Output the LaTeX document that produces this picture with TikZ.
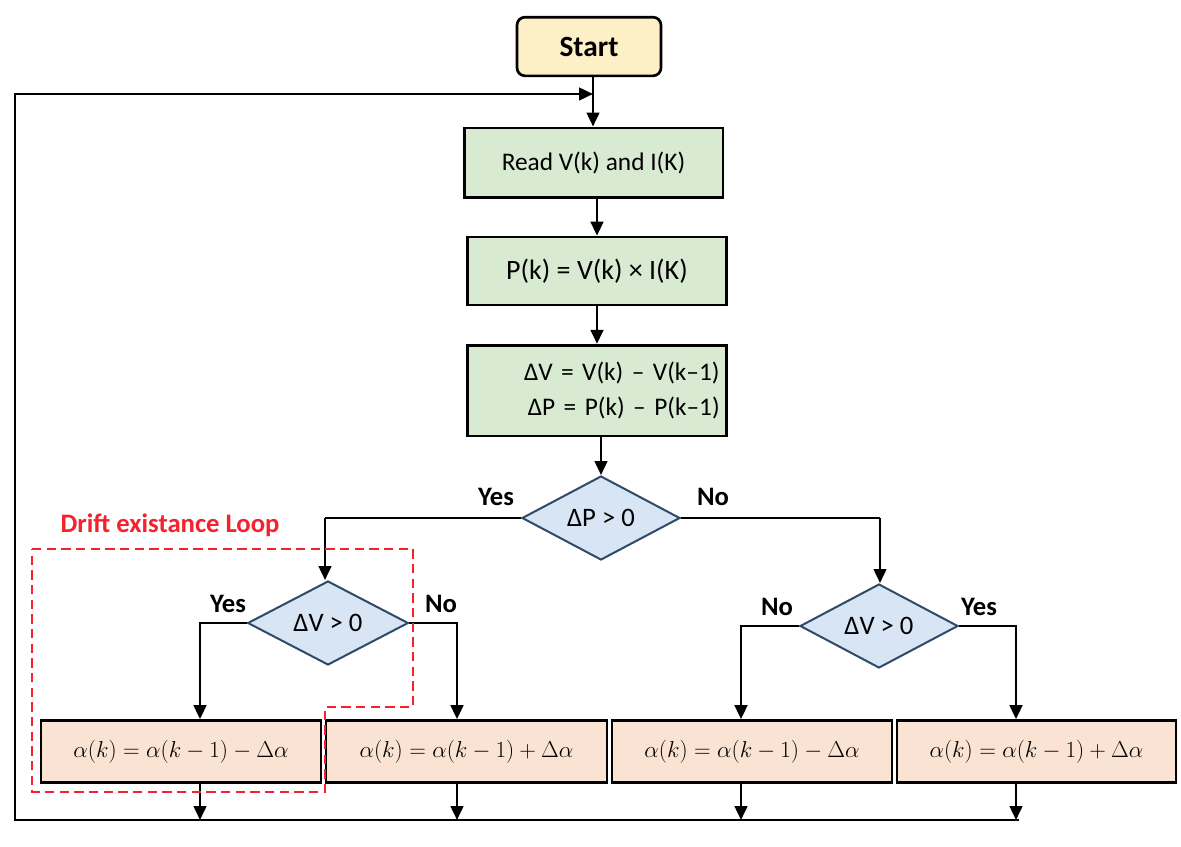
\documentclass[tikz,border=0pt]{standalone}
\usepackage[no-math]{fontspec}
\setmainfont{Carlito}
\usetikzlibrary{arrows.meta,shapes.geometric}
\definecolor{startfill}{HTML}{FDEFC6}
\definecolor{greenfill}{HTML}{D8EAD2}
\definecolor{bluefill}{HTML}{D7E5F4}
\definecolor{blueline}{HTML}{2F4A68}
\definecolor{peach}{HTML}{FBE3D4}
\definecolor{redline}{HTML}{F5222D}
\tikzset{
  box/.style={draw=black, line width=2pt, rectangle, inner sep=0pt},
  startbox/.style={box, fill=startfill, rounded corners=6pt, font=\fontsize{22}{26}\selectfont\bfseries},
  procbox/.style={box, fill=greenfill, font=\fontsize{19}{23}\selectfont},
  outbox/.style={box, fill=peach, font=\fontsize{17.5}{21}\selectfont},
  decision/.style={diamond, draw=blueline, fill=bluefill, line width=1.5pt, inner sep=0pt, aspect=1.9, font=\fontsize{20}{24}\selectfont},
  flow/.style={line width=1.9pt, -{Triangle[length=10.5pt,width=9.5pt]}},
  plain/.style={line width=1.9pt},
  lbl/.style={font=\fontsize{20}{24}\selectfont\bfseries, inner sep=0pt},
  loopbox/.style={draw=redline, line width=1.9pt, dash pattern=on 7pt off 4pt},
}
\begin{document}
\begin{tikzpicture}[x=0.75pt,y=-0.75pt]
\useasboundingbox (0,0) rectangle (1181,846);
% nodes
\node[startbox, minimum width=108pt, minimum height=44pt] (start) at (589,46.5) {Start};
\node[procbox, minimum width=194pt, minimum height=52pt] (read) at (593.5,162.5) {Read V(k) and I(K)};
\node[procbox, minimum width=194pt, minimum height=51pt, font=\fontsize{21}{25}\selectfont] (pk) at (597,271) {P(k) = V(k) × I(K)};
\node[procbox, minimum width=194pt, minimum height=68pt, align=right, text width=184pt] (dv) at (597,390.5) {ΔV = V(k) – V(k–1)\\[3pt]ΔP = P(k) – P(k–1)};
\node[decision, minimum width=118.5pt, minimum height=63pt] (d1) at (601,518) {ΔP > 0};
\node[decision, minimum width=120.5pt, minimum height=63pt] (d2) at (328,623) {ΔV > 0};
\node[decision, minimum width=118.5pt, minimum height=63pt] (d3) at (879,626) {ΔV > 0};
\node[outbox, minimum width=210pt, minimum height=46.5pt] (b1) at (181,751.5) {$\alpha(k)=\alpha(k-1)-\Delta\alpha$};
\node[outbox, minimum width=210.75pt, minimum height=46.5pt] (b2) at (466.5,751.5) {$\alpha(k)=\alpha(k-1)+\Delta\alpha$};
\node[outbox, minimum width=210pt, minimum height=46.5pt] (b3) at (752,751.5) {$\alpha(k)=\alpha(k-1)-\Delta\alpha$};
\node[outbox, minimum width=209.25pt, minimum height=46.5pt] (b4) at (1036.5,751.5) {$\alpha(k)=\alpha(k-1)+\Delta\alpha$};
% labels
\node[lbl] (y1) at (496,497) {Yes};
\node[lbl] (n1) at (713,497) {No};
\node[lbl] (y2) at (228,604) {Yes};
\node[lbl] (n2) at (441,604) {No};
\node[lbl] (n3) at (777,607) {No};
\node[lbl] (y3) at (979,607) {Yes};
\node[lbl, text=redline] (drift) at (170,525) {Drift existance Loop};
% coordinates
\coordinate (tA) at (325,518);
\coordinate (tB) at (880,518);
\coordinate (t1) at (200,623);
\coordinate (t2) at (457,623);
\coordinate (t3) at (741,626);
\coordinate (t4) at (1016,626);
\coordinate (bl) at (15,820);
\coordinate (br) at (1019,820);
\coordinate (loopT) at (593,94);
% connectors
\draw[flow] (start.south -| loopT) -- (loopT |- read.north);
\draw[flow] (read.south -| pk.north) -- (pk);
\draw[flow] (pk) -- (dv);
\draw[flow] (d1.north |- dv.south) -- (d1);
\draw[plain] (d1.west) -- (tA);
\draw[flow] (tA) -- (tA |- d2.north);
\draw[plain] (d1.east) -- (tB);
\draw[flow] (tB) -- (tB |- d3.north);
\draw[flow] (d2.west) -- (t1) -- (t1 |- b1.north);
\draw[flow] (d2.east) -- (t2) -- (t2 |- b2.north);
\draw[flow] (d3.west) -- (t3) -- (t3 |- b3.north);
\draw[flow] (d3.east) -- (t4) -- (t4 |- b4.north);
\draw[flow] (b1.south -| t1) -- (t1 |- bl);
\draw[flow] (b2.south -| t2) -- (t2 |- bl);
\draw[flow] (b3.south -| t3) -- (t3 |- bl);
\draw[flow] (b4.south -| t4) -- (t4 |- bl);
\draw[flow] (br) -- (bl) -- (bl |- loopT) -- (loopT);
% drift loop dashed outline
\draw[loopbox] (32,549) -- (413,549) -- (413,707) -- (325,707) -- (325,792) -- (32,792) -- cycle;
\end{tikzpicture}
\end{document}
